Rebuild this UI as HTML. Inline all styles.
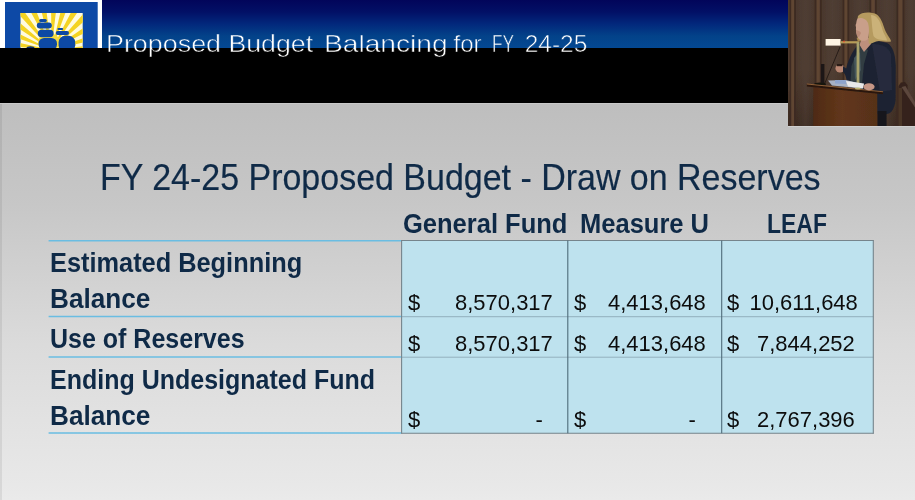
<!DOCTYPE html>
<html>
<head>
<meta charset="utf-8">
<style>
html,body{margin:0;padding:0;}
body{width:915px;height:500px;overflow:hidden;position:relative;font-family:"Liberation Sans",sans-serif;
  background:linear-gradient(180deg,#bebebe 0px,#bebebe 105px,#bfbfbf 115px,#c7c7c7 205px,#dbdbdb 345px,#e8e8e8 485px,#eaeaea 500px);}
#hdr{position:absolute;left:0;top:0;width:915px;height:49px;
  background:linear-gradient(180deg,#02055a 0px,#021066 12px,#02287c 24px,#034289 36px,#044893 48px);}
#bar{position:absolute;left:0;top:48px;width:915px;height:55px;background:#000;}
#barline{position:absolute;left:0;top:103px;width:915px;height:1px;background:#c9c9c9;}
#ledge{position:absolute;left:0;top:104px;width:1.5px;height:396px;background:rgba(0,0,0,0.07);}
#logo{position:absolute;left:0;top:0;width:102px;height:48px;background:#fff;overflow:hidden;}
#htitle{position:absolute;left:0;top:0;z-index:5;will-change:transform;transform:translateZ(0);}
#title{position:absolute;left:100.3px;top:157px;color:#0f2a47;font-size:36.5px;line-height:42px;white-space:nowrap;transform-origin:0 0;transform:scaleX(0.9305);-webkit-text-stroke:0.2px #0f2a47;}
.ch{position:absolute;top:208.5px;color:#0f2a47;font-weight:bold;font-size:27px;line-height:30px;white-space:nowrap;transform-origin:0 0;transform:scaleX(0.945);}
.rl{position:absolute;left:49.6px;color:#0f2a47;font-weight:bold;font-size:27px;line-height:36px;white-space:nowrap;transform-origin:0 0;transform:scaleX(0.926);}
.cell{position:absolute;background:#bee2ee;}
.hl{position:absolute;height:1px;background:#8ec3df;}
.vl{position:absolute;width:1px;background:#4a5560;}
.num{position:absolute;color:#0c0c0c;font-size:22.8px;line-height:24px;white-space:nowrap;transform:scaleX(0.964);transform-origin:0 0;}
.num.r{text-align:right;transform-origin:100% 0;}
#vid{position:absolute;left:788px;top:0;width:127px;height:126px;overflow:hidden;z-index:6;}
#vidline{position:absolute;left:788px;top:126px;width:127px;height:1px;background:#cfcfcf;z-index:6;}
</style>
</head>
<body>
<div id="hdr"></div>
<div id="logo">
<svg width="102" height="48" viewBox="0 0 102 48">
  <defs>
    <clipPath id="sun"><rect x="20.5" y="13" width="62.2" height="40"/></clipPath>
    <filter id="lb" x="-5%" y="-5%" width="110%" height="110%"><feGaussianBlur stdDeviation="0.45"/></filter>
  </defs>
  <g filter="url(#lb)">
  <rect x="-2" y="-2" width="106" height="54" fill="#fff"/>
  <rect x="5" y="2" width="92.7" height="50" fill="#0c4aa6"/>
  <rect x="20.5" y="13" width="62.2" height="40" fill="#fffbe0"/>
  <g clip-path="url(#sun)" fill="#f4d320">
<polygon points="51.5,50.0 -27.6,62.0 -28.5,52.0"/>
<polygon points="51.5,50.0 -28.1,42.5 -26.6,32.5"/>
<polygon points="51.5,50.0 -24.0,23.4 -20.0,14.2"/>
<polygon points="51.5,50.0 -15.3,6.0 -9.2,-2.1"/>
<polygon points="51.5,50.0 -2.7,-8.9 5.2,-15.2"/>
<polygon points="51.5,50.0 13.2,-20.2 22.3,-24.5"/>
<polygon points="51.5,50.0 31.3,-27.4 41.2,-29.3"/>
<polygon points="51.5,50.0 50.7,-30.0 60.7,-29.5"/>
<polygon points="51.5,50.0 70.0,-27.8 79.6,-24.9"/>
<polygon points="51.5,50.0 88.3,-21.0 96.9,-15.9"/>
<polygon points="51.5,50.0 104.4,-10.0 111.5,-2.9"/>
<polygon points="51.5,50.0 117.4,4.6 122.5,13.2"/>
<polygon points="51.5,50.0 126.4,21.9 129.3,31.5"/>
<polygon points="51.5,50.0 131.0,40.8 131.5,50.8"/>
<polygon points="51.5,50.0 130.8,60.3 128.9,70.2"/>
  <ellipse cx="49" cy="42" rx="11" ry="9" fill="#f6dc3c"/>
  <ellipse cx="66" cy="43" rx="10" ry="7" fill="#f6dc3c"/>
  </g>
  <g fill="#0d49a4">
    <rect x="39.2" y="19" width="7.6" height="3" rx="1.5"/>
    <rect x="36.8" y="22.6" width="15" height="6" rx="3"/>
    <rect x="37.8" y="29.8" width="15.8" height="7.4" rx="3.7"/>
    <rect x="38.6" y="38" width="18.4" height="12" rx="5.5"/>
    <rect x="57.4" y="27.9" width="5.8" height="2.2" rx="1.1"/>
    <rect x="55.8" y="31" width="13.2" height="3.9" rx="1.9"/>
    <rect x="58.6" y="35.8" width="16.6" height="16" rx="6.5"/>
    <ellipse cx="30.5" cy="48" rx="4" ry="1.8" fill="#0a2e6a"/>
  </g>
  </g>
</svg>
</div>
<svg id="htitle" width="915" height="103" viewBox="0 0 915 103">
  <defs><linearGradient id="hg" gradientUnits="userSpaceOnUse" x1="0" y1="0" x2="0" y2="100">
    <stop offset="0" stop-color="#02055a"/><stop offset="0.12" stop-color="#021066"/><stop offset="0.24" stop-color="#02287c"/><stop offset="0.36" stop-color="#034289"/><stop offset="0.48" stop-color="#044893"/><stop offset="0.48" stop-color="#000"/><stop offset="1" stop-color="#000"/>
  </linearGradient></defs>
  <g font-family="Liberation Sans, sans-serif" font-size="24" fill="#fff" stroke="url(#hg)" stroke-width="0.55"><text y="51.6" transform="translate(106.0,0) scale(1.12,1)">Proposed</text><text y="51.6" transform="translate(228.4,0) scale(1.115,1)">Budget</text><text y="51.6" transform="translate(323.9,0) scale(1.175,1)">Balancing</text><text y="51.6" transform="translate(453.6,0) scale(1.0,1)">for</text><text y="51.6" transform="translate(491.9,0) scale(0.72,1)">FY</text><text y="51.6" transform="translate(524.7,0) scale(1.02,1)">24-25</text></g>
</svg>
<div id="bar"></div>
<div id="barline"></div>
<div id="ledge"></div>

<div id="title">FY 24-25 Proposed Budget - Draw on Reserves</div>

<div class="ch" style="left:402.5px;">General Fund</div>
<div class="ch" style="left:579.5px;">Measure U</div>
<div class="ch" style="left:767px;transform:scaleX(0.85);">LEAF</div>

<!-- cells + lines -->
<svg id="grid" width="915" height="500" viewBox="0 0 915 500" style="position:absolute;left:0;top:0;">
  <rect x="401.6" y="240.6" width="471.8" height="192.6" fill="#bee2ee"/>
  <g stroke="#6abde2" stroke-width="1.5" fill="none">
    <path d="M48.6 240.8H401.6 M48.6 316.6H401.6 M48.6 357.1H401.6 M48.6 433.0H401.6"/>
  </g>
  <g stroke="#5f7480" stroke-opacity="0.45" stroke-width="1" fill="none">
    <path d="M401.6 316.7H873.4 M401.6 357.2H873.4"/>
  </g>
  <g stroke="#76848b" stroke-width="1.1" fill="none">
    <path d="M401.6 240.5H873.6 M401.6 433.2H873.6"/>
    <path d="M401.6 240V433.7 M873.3 240V433.7"/>
  </g>
  <g stroke="#4f6c7a" stroke-width="1.1" fill="none">
    <path d="M567.8 240.5V433.2 M721.7 240.5V433.2"/>
  </g>
</svg>

<div class="rl" style="top:245px;transform:scaleX(0.939);">Estimated Beginning</div>
<div class="rl" style="top:281px;transform:scaleX(0.969);">Balance</div>
<div class="rl" style="top:321px;">Use of Reserves</div>
<div class="rl" style="top:362px;">Ending Undesignated Fund</div>
<div class="rl" style="top:397.5px;transform:scaleX(0.969);">Balance</div>

<!-- numbers -->
<div class="num" style="left:408px;top:289.7px;">$</div>
<div class="num r" style="left:420px;width:132.8px;top:289.7px;">8,570,317</div>
<div class="num" style="left:574px;top:289.7px;">$</div>
<div class="num r" style="left:580px;width:125.8px;top:289.7px;">4,413,648</div>
<div class="num" style="left:727px;top:289.7px;">$</div>
<div class="num r" style="left:735px;width:122.8px;top:289.7px;">10,611,648</div>

<div class="num" style="left:408px;top:330.7px;">$</div>
<div class="num r" style="left:420px;width:132.8px;top:330.7px;">8,570,317</div>
<div class="num" style="left:574px;top:330.7px;">$</div>
<div class="num r" style="left:580px;width:125.8px;top:330.7px;">4,413,648</div>
<div class="num" style="left:727px;top:330.7px;">$</div>
<div class="num r" style="left:735px;width:119.8px;top:330.7px;">7,844,252</div>

<div class="num" style="left:408px;top:406.7px;">$</div>
<div class="num r" style="left:420px;width:122.8px;top:406.7px;">-</div>
<div class="num" style="left:574px;top:406.7px;">$</div>
<div class="num r" style="left:580px;width:115.8px;top:406.7px;">-</div>
<div class="num" style="left:727px;top:406.7px;">$</div>
<div class="num r" style="left:735px;width:119.8px;top:406.7px;">2,767,396</div>

<div id="vid">
<svg width="127" height="127" viewBox="0 0 127 127">
  <defs>
    <filter id="vb" x="-5%" y="-5%" width="110%" height="110%"><feGaussianBlur stdDeviation="0.65"/></filter>
    <linearGradient id="wood" x1="0" y1="0" x2="0" y2="1">
      <stop offset="0" stop-color="#4a382e"/><stop offset="0.55" stop-color="#4c392d"/><stop offset="1" stop-color="#3b2a21"/>
    </linearGradient>
    <linearGradient id="pod" x1="0" y1="0" x2="1" y2="0">
      <stop offset="0" stop-color="#4e2a14"/><stop offset="0.45" stop-color="#62371b"/><stop offset="1" stop-color="#563019"/>
    </linearGradient>
    <linearGradient id="sheen" x1="0" y1="0" x2="1" y2="0">
      <stop offset="0" stop-color="#5a4a42" stop-opacity="0"/><stop offset="0.5" stop-color="#5a4a42" stop-opacity="0.3"/><stop offset="1" stop-color="#5a4a42" stop-opacity="0"/>
    </linearGradient>
  </defs>
  <rect x="-2" y="-2" width="131" height="131" fill="#4a382e"/>
  <g filter="url(#vb)">
    <rect x="-2" y="-2" width="131" height="131" fill="url(#wood)"/>
    <!-- panel sheen -->
    <rect x="9" y="-2" width="17" height="130" fill="url(#sheen)"/>
    <rect x="35" y="-2" width="19" height="130" fill="url(#sheen)"/>
    <rect x="63" y="-2" width="18" height="130" fill="url(#sheen)"/>
    <rect x="90" y="-2" width="18" height="130" fill="url(#sheen)"/>
    <rect x="117" y="-2" width="12" height="130" fill="url(#sheen)"/>
    <!-- grooves -->
    <g fill="#3d2c22">
      <rect x="1.6" y="-2" width="1.6" height="130"/>
      <rect x="6.2" y="-2" width="1.8" height="130"/>
      <rect x="26.6" y="-2" width="1.8" height="130"/>
      <rect x="32" y="-2" width="1.8" height="130"/>
      <rect x="54.6" y="-2" width="1.8" height="130"/>
      <rect x="59.4" y="-2" width="1.8" height="130"/>
      <rect x="81.4" y="-2" width="1.8" height="130"/>
      <rect x="87" y="-2" width="1.8" height="130"/>
      <rect x="108.4" y="-2" width="1.8" height="130"/>
      <rect x="114.6" y="-2" width="1.8" height="130"/>
    </g>
    <!-- ridges -->
    <g fill="#5e4431">
      <rect x="3.2" y="-2" width="2.8" height="130"/>
      <rect x="28.6" y="-2" width="3.2" height="130"/>
      <rect x="56.5" y="-2" width="2.8" height="130"/>
      <rect x="83.4" y="-2" width="3.4" height="130"/>
      <rect x="110.4" y="-2" width="4" height="130"/>
    </g>
    <!-- bench right -->
    <path d="M110.5 86 L113 82.5 L117 82 L119.5 85 L119.5 90 L128 106 L128 128 L110.5 128 Z" fill="#35231b"/>
    <path d="M113.5 87 L117.5 86 L128 104 L128 109 Z" fill="#5b463c"/>
    <rect x="111" y="88" width="3" height="40" fill="#4a3428"/>
    <!-- jacket -->
    <path d="M72 43 C78 40.5 92 40 99 43 C105 46 107.4 54 107.8 66 L107.6 100 C106.5 108 104 113.5 99 114 L89.4 114 L88.5 92.5 L73 89 L60 85 L57 74 C59 62 64 50 72 43 Z" fill="#1e2331"/>
    <path d="M84 44 C92 44 100 46 103 54 L104 90 L92 92 Z" fill="#252b3c"/>
    <!-- pants -->
    <rect x="89.5" y="111" width="9" height="18" fill="#13151c"/>
    <!-- shirt -->
    <path d="M71 46 L80 50 L76 64 L74 84 L62.5 83 L63.5 66 Z" fill="#303d43"/>
    <path d="M66 58 L72 52 L73 70 L67 80 Z" fill="#46565b"/>
    <!-- neck/chest -->
    <path d="M74 37 L82 38 L83 44 L76 52 L71.5 45 Z" fill="#bd8f7c"/>
    <!-- hair -->
    <path d="M70 16 C73 12 82 11.5 88 14 C93 17 95 24 97 30 C99 35 103 39 103 41.5 C99 42.5 95 41 91 41 C87 41 84 44 81 44 C80 38 81 30 79 24 C77 20 72 19.5 69.5 19 Z" fill="#b59a5e"/>
    <path d="M83 15 C89 15 92 21 94 28 C95.5 34 99 38 99 40.5 C93 39.5 88 40 85.5 36 C84 30 84 22 83 15 Z" fill="#cbb279"/>
    <path d="M68.6 38 L72 36 L73 41 L70 42 Z" fill="#a78a50"/>
    <!-- face -->
    <path d="M69.6 18.4 C73 17 78.5 18.5 80 23 C81.4 28 81.4 35 79.6 39.4 C77 41.6 72.6 41 70.4 38.4 C68.4 35 67.6 31 68 27 C67.4 26 67.6 24.6 68.2 23.6 C68.4 21.6 68.8 19.8 69.6 18.4 Z" fill="#c99f8a"/>
    <path d="M68 30 C70 30.5 72 31 73 33 L71 37 L69 36 Z" fill="#b98a76"/>
    <!-- lamp -->
    <rect x="37.6" y="39" width="15" height="6.6" fill="#fff4e4"/>
    <rect x="52.4" y="41.2" width="18" height="2.2" fill="#b79c58"/>
    <circle cx="56" cy="41.4" r="0.9" fill="#e05030"/>
    <rect x="68.6" y="42" width="2.8" height="46.5" fill="#a8a26c"/>
    <!-- mic -->
    <path d="M36.5 84 L52 47" stroke="#231a15" stroke-width="0.9" fill="none"/>
    <rect x="33" y="64" width="3.4" height="21" fill="#1d1815"/>
    <ellipse cx="32" cy="84.2" rx="6" ry="1.7" fill="#16120f"/>
    <!-- hand w/ clicker -->
    <ellipse cx="52" cy="68.4" rx="4.6" ry="4" fill="#b98672"/>
    <rect x="49" y="64" width="5.4" height="2.2" fill="#2a1a18"/>
    <path d="M55 66 L60 70 L60 78 L55 72 Z" fill="#1e2331"/>
    <!-- podium -->
    <path d="M25.3 87 L89.2 93.4 L89.2 128 L25.3 128 Z" fill="url(#pod)"/>
    <path d="M18.9 84 L95 91.8 L95 94.2 L18.9 86.6 Z" fill="#2a180d"/>
    <path d="M18.9 83.6 L95 91.3 L95 92.3 L18.9 84.6 Z" fill="#8e6038"/>
    <!-- papers -->
    <path d="M40 80.6 L58 80 L76 84.4 L74 88.6 L44 85.4 Z" fill="#a8b2c4"/>
    <path d="M58 81 L76 83.6 L75 88.4 L60 86.6 Z" fill="#e8e8e8"/>
    <path d="M47 80 L58 80 L58 84 L47 83.4 Z" fill="#8ea4cc"/>
    <!-- hand on podium -->
    <ellipse cx="81" cy="86.8" rx="5.6" ry="3.6" fill="#c59686"/>
    <!-- lamp base -->
    <ellipse cx="69.8" cy="88.6" rx="3" ry="1" fill="#bab272"/>
  </g>
</svg>
</div>
<div id="vidline"></div>
</body>
</html>
